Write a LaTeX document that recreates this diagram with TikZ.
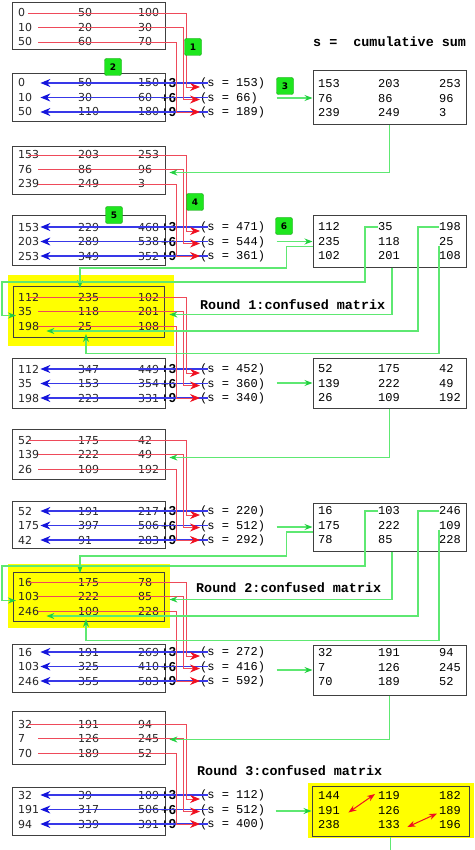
\documentclass[tikz,border=0pt]{standalone}
\usepackage{fontspec}
\usepackage{xcolor}
\usepackage{tikz}
\usetikzlibrary{arrows.meta}
\newfontfamily\lftfont{DejaVu Sans}
\newfontfamily\monofont{Liberation Mono}
\newfontfamily\plusfont{Liberation Sans}
\definecolor{boxgray}{HTML}{404040}
\definecolor{linered}{HTML}{EE4A5A}
\definecolor{tipred}{HTML}{F01020}
\definecolor{lineblue}{HTML}{3838E8}
\definecolor{tipblue}{HTML}{1414DC}
\definecolor{linegreen}{HTML}{5EE872}
\definecolor{tipgreen}{HTML}{22D040}
\definecolor{badgegreen}{HTML}{1EE61E}
\definecolor{badgeedge}{HTML}{139A13}
\definecolor{hiyellow}{HTML}{FFFF00}

% plain 3x3 matrix, left column of boxes
\newcommand\lgrid[3]{%
  \foreach \ca/\cb/\cc [count=\r] in {#3}{%
    \node[lcell] (#1-\r-1) at (18,{#2+14.5*(\r-1)}) {\ca};
    \node[lcell] (#1-\r-2) at (78,{#2+14.5*(\r-1)}) {\cb};
    \node[lcell] (#1-\r-3) at (138,{#2+14.5*(\r-1)}) {\cc};
  }}
% 3x3 matrix, right column of boxes
\newcommand\rgrid[3]{%
  \foreach \ca/\cb/\cc [count=\r] in {#3}{%
    \node[rcell] (#1-\r-1) at (318,{#2+14.5*(\r-1)}) {\ca};
    \node[rcell] (#1-\r-2) at (378,{#2+14.5*(\r-1)}) {\cb};
    \node[rcell] (#1-\r-3) at (439,{#2+14.5*(\r-1)}) {\cc};
  }}
% cumulative sums, +k and (s = ..) with the blue arrows back
\newcommand\bgrid[3]{%
  \foreach \ca/\cb/\cc/\pv/\sv [count=\r] in {#3}{%
    \node[lcell] (#1-\r-1) at (18,{#2+14.5*(\r-1)}) {\ca};
    \node[lcell] (#1-\r-2) at (78,{#2+14.5*(\r-1)}) {\cb};
    \node[lcell] (#1-\r-3) at (138,{#2+14.5*(\r-1)}) {\cc};
    \node[pcell] (#1-\r-p) at (161,{#2+14.5*(\r-1)}) {+\pv};
    \node[scell] (#1-\r-s) at (200,{#2+14.5*(\r-1)}) {(s = \sv)};
    \draw[bl] ([xshift=8pt]#1-\r-s.west) -- (#1-\r-1.east);
  }}
% red rows into the sums
\newcommand\sumlines[2]{%
  \foreach \r/\xs/\dx/\dy in {1/10/14/4, 2/20/17/2, 3/20/24/0}
    \draw[rd] ([xshift=\xs pt]#1-\r-1.west) -| ([xshift=-\dx pt,yshift=-\dy pt]#2-\r-s.west)
      -- ([yshift=-\dy pt]#2-\r-s.west);}
% green moves into the confused matrix
\newcommand\confuse[4]{%
  \draw[grn] ([yshift=-5pt]#1.west) -- ++(-26,0) -- ++(0,#3) -| ([xshift=2pt,yshift=9pt]#2-1-2.west);
  \draw[grn] (#1-1-2.west) -- ++(-13,0) -- ++(0,55) -- ++(-363,0) |- ([xshift=-2pt,yshift=-4pt]#2-2-1.west);
  \draw[grn] ([xshift=2.5pt]#1.south) |- ([xshift=9pt,yshift=-3pt]#2-2-3.east);
  \draw[grn] (#1-1-3.west) -- ++(-21,0) |- ([xshift=6pt,yshift=-5pt]#2-3-1.east);
  \draw[grn] ([yshift=-4pt]#1-2-3.west) -- ++(0,#4) -| ([xshift=8pt,yshift=-8pt]#2-3-2.west);}

\begin{document}
\begin{tikzpicture}[
  x=1pt, y=-1pt,
  mbox/.style={draw=boxgray, line width=1pt, inner sep=0pt},
  lcell/.style={anchor=west, inner sep=0pt, text width=22pt, text height=8pt, text depth=0pt,
                text=black!85, font=\lftfont\fontsize{11}{11}\selectfont},
  rcell/.style={anchor=west, inner sep=0pt, text width=22pt, text height=7.3pt, text depth=0pt,
                font=\monofont\fontsize{12}{12}\selectfont},
  pcell/.style={anchor=west, inner sep=0pt, text height=9.3pt, text depth=0pt,
                font=\plusfont\bfseries\fontsize{13}{13}\selectfont},
  scell/.style={anchor=west, inner sep=0pt, text height=7.3pt, text depth=0pt,
                font=\monofont\fontsize{12}{12}\selectfont},
  heading/.style={anchor=base west, inner sep=0pt, font=\monofont\bfseries\fontsize{13.4}{13.4}\selectfont},
  badge/.style={fill=badgegreen, draw=badgeedge, rounded corners=2pt, minimum size=17pt,
                inner sep=0pt, font=\lftfont\bfseries\fontsize{9}{9}\selectfont},
  rd/.style={draw=linered, line width=0.9pt, -{Stealth[length=10pt,width=8pt,color=tipred]}},
  bl/.style={draw=lineblue, line width=1.1pt, -{Stealth[length=10pt,width=8pt,color=tipblue]}},
  grn/.style={draw=linegreen, line width=1.1pt, -{Stealth[length=8pt,width=6pt,color=tipgreen]}},
  gline/.style={draw=linegreen, line width=1.1pt},
  swp/.style={draw=tipred, line width=1pt, {Stealth[length=8pt,width=6pt]}-{Stealth[length=8pt,width=6pt]}}
]
\useasboundingbox (0,0) rectangle (474,850);

% highlights
\fill[hiyellow] (8,275) rectangle (174,346);
\fill[hiyellow] (8,564) rectangle (170,628);
\fill[hiyellow] (308,783) rectangle (474,838);

% frames
\node[mbox, minimum width=153pt, minimum height=47pt] (A1) at (88.5,26.5) {};
\node[mbox, minimum width=153pt, minimum height=48pt] (B1) at (88.5,98) {};
\node[mbox, minimum width=153pt, minimum height=54pt] (C1) at (389.5,98) {};
\node[mbox, minimum width=153pt, minimum height=48pt] (A2) at (88.5,171) {};
\node[mbox, minimum width=153pt, minimum height=49pt] (B2) at (88.5,240.5) {};
\node[mbox, minimum width=153pt, minimum height=51pt] (C2) at (389.5,241.5) {};
\node[mbox, minimum width=151pt, minimum height=51pt] (D1) at (88.5,311.5) {};
\node[mbox, minimum width=153pt, minimum height=50pt] (B3) at (88.5,383) {};
\node[mbox, minimum width=153pt, minimum height=50pt] (C3) at (389.5,383) {};
\node[mbox, minimum width=153pt, minimum height=50pt] (A3) at (88.5,454) {};
\node[mbox, minimum width=153pt, minimum height=47pt] (B4) at (88.5,524.5) {};
\node[mbox, minimum width=153pt, minimum height=48pt] (C4) at (389.5,527) {};
\node[mbox, minimum width=151pt, minimum height=49pt] (D2) at (88.5,596.5) {};
\node[mbox, minimum width=153pt, minimum height=48pt] (B5) at (88.5,668) {};
\node[mbox, minimum width=153pt, minimum height=50pt] (C5) at (389.5,670) {};
\node[mbox, minimum width=153pt, minimum height=53pt] (A4) at (88.5,737.5) {};
\node[mbox, minimum width=153pt, minimum height=48pt] (B6) at (88.5,811) {};
\node[mbox, minimum width=157pt, minimum height=50pt] (D3) at (390.5,811) {};

% values
\lgrid{A1}{13}{0/50/100, 10/20/30, 50/60/70}
\bgrid{B1}{83}{0/50/150/3/153, 10/30/60/6/66, 50/110/180/9/189}
\rgrid{C1}{84}{153/203/253, 76/86/96, 239/249/3}
\lgrid{A2}{155}{153/203/253, 76/86/96, 239/249/3}
\bgrid{B2}{227}{153/229/468/3/471, 203/289/538/6/544, 253/349/352/9/361}
\rgrid{C2}{227}{112/35/198, 235/118/25, 102/201/108}
\lgrid{D1}{297}{112/235/102, 35/118/201, 198/25/108}
\bgrid{B3}{369}{112/347/449/3/452, 35/153/354/6/360, 198/223/331/9/340}
\rgrid{C3}{369}{52/175/42, 139/222/49, 26/109/192}
\lgrid{A3}{440}{52/175/42, 139/222/49, 26/109/192}
\bgrid{B4}{511}{52/191/217/3/220, 175/397/506/6/512, 42/91/283/9/292}
\rgrid{C4}{511}{16/103/246, 175/222/109, 78/85/228}
\lgrid{D2}{582}{16/175/78, 103/222/85, 246/109/228}
\bgrid{B5}{652}{16/191/269/3/272, 103/325/410/6/416, 246/355/583/9/592}
\rgrid{C5}{653}{32/191/94, 7/126/245, 70/189/52}
\lgrid{A4}{724}{32/191/94, 7/126/245, 70/189/52}
\bgrid{B6}{795}{32/39/109/3/112, 191/317/506/6/512, 94/339/391/9/400}
\rgrid{D3}{796}{144/119/182, 191/126/189, 238/133/196}

% headings
\node[heading] (title) at (313,46.5) {s =\ \ cumulative sum};
\node[heading] (round1) at (200,309) {Round 1:confused matrix};
\node[heading] (round2) at (196,592) {Round 2:confused matrix};
\node[heading] (round3) at (197,775) {Round 3:confused matrix};

% red rows into the sums
\sumlines{A1}{B1}
\sumlines{A2}{B2}
\sumlines{D1}{B3}
\sumlines{A3}{B4}
\sumlines{D2}{B5}
\sumlines{A4}{B6}

% green: sums into the next matrix
\foreach \m in {C1, C2, C3, C4, C5, D3}
  \draw[grn] ([xshift=-36pt]\m.west) -- (\m.west);
\draw[grn] (C1.south) |- ([xshift=9pt,yshift=-3pt]A2-2-3.east);
\draw[grn] (C3.south) |- ([xshift=9pt,yshift=-3pt]A3-2-3.east);
\draw[grn] (C5.south) |- ([xshift=9pt,yshift=-1pt]A4-2-3.east);
\draw[gline] (D3.south) -- ++(0,14);
\confuse{C2}{D1}{21.5}{108}
\confuse{C4}{D2}{24}{111}

% swaps
\draw[swp] ([xshift=8pt,yshift=-2pt]D3-2-1.east) -- ([xshift=-3pt,yshift=2pt]D3-1-2.west);
\draw[swp] ([xshift=7pt,yshift=-2pt]D3-3-2.east) -- ([xshift=-2pt,yshift=-3pt]D3-2-3.west);

% steps
\node[badge] (n1) at (193,47) {1};
\node[badge] (n2) at (113,67) {2};
\node[badge] (n3) at (285,86) {3};
\node[badge] (n4) at (195,202) {4};
\node[badge] (n5) at (114,215) {5};
\node[badge] (n6) at (284,226) {6};
\end{tikzpicture}
\end{document}
